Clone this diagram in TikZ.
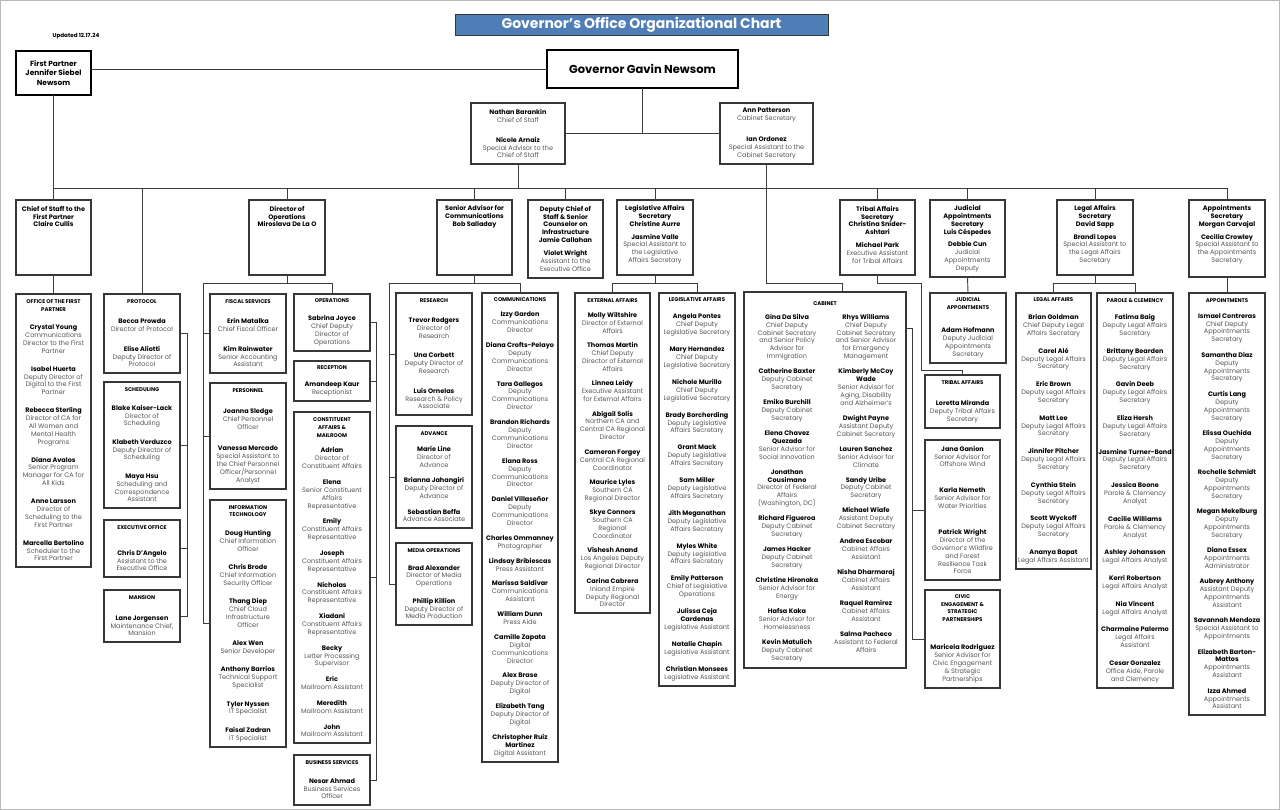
\documentclass[tikz,border=0pt]{standalone}
\usepackage{fontspec}
\setmainfont{Poppins}
\definecolor{boxc}{RGB}{55,55,55}
\definecolor{linec}{RGB}{60,60,60}
\definecolor{titc}{RGB}{85,85,85}
\definecolor{bar}{RGB}{79,125,182}
\newcommand\bodyfont{\fontsize{6.5}{7.9}\selectfont\color{titc}}
\newcommand\nm[1]{{\bfseries\color{black}#1}}
\newcommand\hd[1]{{\fontsize{5.4}{7.4}\selectfont\bfseries\color{black}#1}}
\newcommand\sep{\par\vfill}
\newcommand\gap{\par\vspace{5pt}}
\newcommand\bx[7][]{%
  \node[box,#1,minimum width={#5-#3},minimum height={#6-#4}] (#2) at (#3,#4)
  {\begin{minipage}[c][\dimexpr#6pt-#4pt-12pt\relax][s]{\dimexpr#5pt-#3pt-1pt\relax}\centering\bodyfont#7\end{minipage}};}
\newcommand\col[5]{% name, cx, ytop, height, content
  \node[inner sep=0pt,outer sep=0pt,anchor=north] (#1) at (#2,#3)
  {\begin{minipage}[c][#4pt][s]{77pt}\centering\bodyfont#5\end{minipage}};}
\tikzset{
  box/.style={draw=boxc,line width=1.1pt,inner sep=0pt,outer sep=0pt,anchor=north west,fill=white},
  topbox/.style={draw=black,line width=2.4pt},
  con/.style={draw=linec,line width=0.9pt},
  titlebar/.style={fill=bar,draw=boxc,line width=0.8pt,text=white,inner sep=0pt,minimum width=373,minimum height=21,font=\fontsize{14}{16}\selectfont\bfseries},
}
\begin{document}
\begin{tikzpicture}[x=1pt,y=-1pt]
\useasboundingbox (0,0) rectangle (1280,810);
\draw[gray!55,line width=1pt] (0.5,0.5) rectangle (1279.5,809.5);
\node[titlebar] (title) at (641.5,24.5) {Governor’s Office Organizational Chart};
\node[inner sep=0pt] (upd) at (76,36) {\fontsize{5.6}{6.5}\selectfont\bfseries Updated 12.17.24};
\node[box,topbox,minimum width=75,minimum height=44] (fp) at (16,51)
  {\begin{minipage}{72pt}\centering\fontsize{7.4}{9.8}\selectfont\bfseries First Partner\\Jennifer Siebel\\Newsom\end{minipage}};
\node[box,topbox,minimum width=191,minimum height=38] (gov) at (547,50)
  {\fontsize{11.5}{13}\selectfont\bfseries Governor Gavin Newsom};
% level 1
\bx{nathan}{471}{103}{565}{164}{\nm{Nathan Barankin}\\Chief of Staff\sep\nm{Nicole Arnaiz}\\Special Advisor to the\\Chief of Staff}
\bx{ann}{720}{103}{813}{164}{\nm{Ann Patterson}\\Cabinet Secretary\sep\nm{Ian Ordonez}\\Special Assistant to the\\Cabinet Secretary}
% level 2
\bx{cosfp}{16}{200}{91}{275}{\nm{Chief of Staff to the\\First Partner\\Claire Cullis}\par\vfill}
\bx{dirops}{249}{200}{325}{275}{\nm{Director of\\Operations\\Miroslava De La O}\par\vfill}
\bx{senadv}{437}{200}{512}{275}{\nm{Senior Advisor for\\Communications\\Bob Salladay}\par\vfill}
\bx{depchief}{528}{200}{603}{278}{\nm{Deputy Chief of\\Staff \& Senior\\Counselor on\\Infrastructure\\Jamie Callahan}\gap\nm{Violet Wright}\\Assistant to the\\Executive Office\par\vfill}
\bx{legsec}{617}{200}{693}{275}{\nm{Legislative Affairs\\Secretary\\Christine Aurre}\gap\nm{Jasmine Valle}\\Special Assistant to\\the Legislative\\Affairs Secretary\par\vfill}
\bx{tribsec}{840}{200}{915}{275}{\nm{Tribal Affairs\\Secretary\\Christina Snider-\\Ashtari}\gap\nm{Michael Park}\\Executive Assistant\\for Tribal Affairs\par\vfill}
\bx{judsec}{930}{200}{1005}{277}{\nm{Judicial\\Appointments\\Secretary\\Luis Céspedes}\gap\nm{Debbie Cun}\\Judicial\\Appointments\\Deputy\par\vfill}
\bx{legalsec}{1057}{200}{1133}{275}{\nm{Legal Affairs\\Secretary\\David Sapp}\gap\nm{Brandi Lopes}\\Special Assistant to\\the Legal Affairs\\Secretary\par\vfill}
\bx{apptsec}{1189}{200}{1265}{277}{\nm{Appointments\\Secretary\\Morgan Carvajal}\gap\nm{Cecilia Crowley}\\Special Assistant to\\the Appointments\\Secretary\par\vfill}
% level 3
\bx{ofp}{16}{294}{91}{567}{\hd{OFFICE OF THE FIRST\\PARTNER}\sep\nm{Crystal Young}\\Communications\\Director to the First\\Partner\sep\nm{Isabel Huerta}\\Deputy Director of\\Digital to the First\\Partner\sep\nm{Rebecca Sterling}\\Director of CA for\\All Women and\\Mental Health\\Programs\sep\nm{Diana Avalos}\\Senior Program\\Manager for CA for\\All Kids\sep\nm{Anne Larsson}\\Director of\\Scheduling to the\\First Partner\sep\nm{Marcella Bertolino}\\Scheduler to the\\First Partner}
\bx{prot}{104}{294}{180}{373}{\hd{PROTOCOL}\sep\nm{Becca Prowda}\\Director of Protocol\sep\nm{Elise Aliotti}\\Deputy Director of\\Protocol}
\bx{sched}{104}{382}{180}{508}{\hd{SCHEDULING}\sep\nm{Blake Kaiser-Lack}\\Director of\\Scheduling\sep\nm{Klabeth Verduzco}\\Deputy Director of\\Scheduling\sep\nm{Maya Hsu}\\Scheduling and\\Correspondence\\Assistant}
\bx{exec}{104}{520}{180}{577}{\hd{EXECUTIVE OFFICE}\sep\nm{Chris D’Angelo}\\Assistant to the\\Executive Office}
\bx{mans}{104}{590}{180}{642}{\hd{MANSION}\sep\nm{Lane Jorgensen}\\Maintenance Chief,\\Mansion}
\bx{fisc}{210}{294}{286}{373}{\hd{FISCAL SERVICES}\sep\nm{Erin Matalka}\\Chief Fiscal Officer\sep\nm{Kim Rainwater}\\Senior Accounting\\Assistant}
\bx{pers}{210}{383}{286}{489}{\hd{PERSONNEL}\sep\nm{Joanna Sledge}\\Chief Personnel\\Officer\sep\nm{Vanessa Mercado}\\Special Assistant to\\the Chief Personnel\\Officer/Personnel\\Analyst}
\bx{it}{210}{500}{286}{747}{\hd{INFORMATION\\TECHNOLOGY}\sep\nm{Doug Hunting}\\Chief Information\\Officer\sep\nm{Chris Brode}\\Chief Information\\Security Officer\sep\nm{Thang Diep}\\Chief Cloud\\Infrastructure\\Officer\sep\nm{Alex Wen}\\Senior Developer\sep\nm{Anthony Barrios}\\Technical Support\\Specialist\sep\nm{Tyler Nyssen}\\IT Specialist\sep\nm{Faisal Zadran}\\IT Specialist}
\bx{ops}{294}{294}{370}{351}{\hd{OPERATIONS}\sep\nm{Sabrina Joyce}\\Chief Deputy\\Director of\\Operations}
\bx{recep}{294}{361}{370}{401}{\hd{RECEPTION}\sep\nm{Amandeep Kaur}\\Receptionist}
\bx{const}{294}{412}{370}{743}{\hd{CONSTITUENT\\AFFAIRS \&\\MAILROOM}\sep\nm{Adrian}\\Director of\\Constituent Affairs\sep\nm{Elena}\\Senior Constituent\\Affairs\\Representative\sep\nm{Emily}\\Constituent Affairs\\Representative\sep\nm{Joseph}\\Constituent Affairs\\Representative\sep\nm{Nicholas}\\Constituent Affairs\\Representative\sep\nm{Xiadani}\\Constituent Affairs\\Representative\sep\nm{Becky}\\Letter Processing\\Supervisor\sep\nm{Eric}\\Mailroom Assistant\sep\nm{Meredith}\\Mailroom Assistant\sep\nm{John}\\Mailroom Assistant}
\bx{biz}{294}{755}{370}{805}{\hd{BUSINESS SERVICES}\sep\nm{Nesar Ahmad}\\Business Services\\Officer}
\bx{res}{396}{293}{472}{415}{\hd{RESEARCH}\sep\nm{Trevor Rodgers}\\Director of\\Research\sep\nm{Una Corbett}\\Deputy Director of\\Research\sep\nm{Luis Ornelas}\\Research \& Policy\\Associate}
\bx{adv}{396}{426}{472}{528}{\hd{ADVANCE}\sep\nm{Marie Line}\\Director of\\Advance\sep\nm{Brianna Jahangiri}\\Deputy Director of\\Advance\sep\nm{Sebastian Beffa}\\Advance Associate}
\bx{media}{396}{543}{472}{625}{\hd{MEDIA OPERATIONS}\sep\nm{Brad Alexander}\\Director of Media\\Operations\sep\nm{Phillip Killion}\\Deputy Director of\\Media Production}
\bx{comm}{482}{293}{558}{762}{\hd{COMMUNICATIONS}\sep\nm{Izzy Gardon}\\Communications\\Director\sep\nm{Diana Crofts-Pelayo}\\Deputy\\Communications\\Director\sep\nm{Tara Gallegos}\\Deputy\\Communications\\Director\sep\nm{Brandon Richards}\\Deputy\\Communications\\Director\sep\nm{Elana Ross}\\Deputy\\Communications\\Director\sep\nm{Daniel Villaseñor}\\Deputy\\Communications\\Director\sep\nm{Charles Ommanney}\\Photographer\sep\nm{Lindsay Bribiescas}\\Press Assistant\sep\nm{Marissa Saldivar}\\Communications\\Assistant\sep\nm{William Dunn}\\Press Aide\sep\nm{Camille Zapata}\\Digital\\Communications\\Director\sep\nm{Alex Brase}\\Deputy Director of\\Digital\sep\nm{Elizabeth Tang}\\Deputy Director of\\Digital\sep\nm{Christopher Ruiz\\Martinez}\\Digital Assistant}
\bx{ext}{575}{293}{650}{613}{\hd{EXTERNAL AFFAIRS}\sep\nm{Molly Wiltshire}\\Director of External\\Affairs\sep\nm{Thomas Martin}\\Chief Deputy\\Director of External\\Affairs\sep\nm{Linnea Leidy}\\Executive Assistant\\for External Affairs\sep\nm{Abigail Solis}\\Northern CA and\\Central CA Regional\\Director\sep\nm{Cameron Forgey}\\Central CA Regional\\Coordinator\sep\nm{Maurice Lyles}\\Southern CA\\Regional Director\sep\nm{Skye Connors}\\Southern CA\\Regional\\Coordinator\sep\nm{Vishesh Anand}\\Los Angeles Deputy\\Regional Director\sep\nm{Carina Cabrera}\\Inland Empire\\Deputy Regional\\Director}
\bx{leg}{659}{293}{735}{686}{\hd{LEGISLATIVE AFFAIRS}\sep\nm{Angela Pontes}\\Chief Deputy\\Legislative Secretary\sep\nm{Mary Hernandez}\\Chief Deputy\\Legislative Secretary\sep\nm{Nichole Murillo}\\Chief Deputy\\Legislative Secretary\sep\nm{Brady Borcherding}\\Deputy Legislative\\Affairs Secretary\sep\nm{Grant Mack}\\Deputy Legislative\\Affairs Secretary\sep\nm{Sam Miller}\\Deputy Legislative\\Affairs Secretary\sep\nm{Jith Meganathan}\\Deputy Legislative\\Affairs Secretary\sep\nm{Myles White}\\Deputy Legislative\\Affairs Secretary\sep\nm{Emily Patterson}\\Chief of Legislative\\Operations\sep\nm{Julissa Ceja\\Cardenas}\\Legislative Assistant\sep\nm{Natalie Chapin}\\Legislative Assistant\sep\nm{Christian Monsees}\\Legislative Assistant}
% cabinet
\node[box,minimum width=162,minimum height=376] (cab) at (744,292) {};
\node[inner sep=0pt] (cabh) at (825,304) {\hd{CABINET}};
\col{cabl}{787}{314}{346}{\nm{Gina Da Silva}\\Chief Deputy\\Cabinet Secretary\\and Senior Policy\\Advisor for\\Immigration\sep\nm{Catherine Baxter}\\Deputy Cabinet\\Secretary\sep\nm{Emiko Burchill}\\Deputy Cabinet\\Secretary\sep\nm{Elena Chavez\\Quezada}\\Senior Advisor for\\Social Innovation\sep\nm{Jonathan\\Cousimano}\\Director of Federal\\Affairs\\(Washington, DC)\sep\nm{Richard Figueroa}\\Deputy Cabinet\\Secretary\sep\nm{James Hacker}\\Deputy Cabinet\\Secretary\sep\nm{Christine Hironaka}\\Senior Advisor for\\Energy\sep\nm{Hafsa Kaka}\\Senior Advisor for\\Homelessness\sep\nm{Kevin Matulich}\\Deputy Cabinet\\Secretary}
\col{cabr}{866}{314}{338}{\nm{Rhys Williams}\\Chief Deputy\\Cabinet Secretary\\and Senior Advisor\\for Emergency\\Management\sep\nm{Kimberly McCoy\\Wade}\\Senior Advisor for\\Aging, Disability\\and Alzheimer’s\sep\nm{Dwight Payne}\\Assistant Deputy\\Cabinet Secretary\sep\nm{Lauren Sanchez}\\Senior Advisor for\\Climate\sep\nm{Sandy Uribe}\\Deputy Cabinet\\Secretary\sep\nm{Michael Wiafe}\\Assistant Deputy\\Cabinet Secretary\sep\nm{Andrea Escobar}\\Cabinet Affairs\\Assistant\sep\nm{Nisha Dharmaraj}\\Cabinet Affairs\\Assistant\sep\nm{Raquel Ramirez}\\Cabinet Affairs\\Assistant\sep\nm{Salma Pacheco}\\Assistant to Federal\\Affairs}
\bx{jud}{930}{293}{1006}{363}{\hd{JUDICIAL\\APPOINTMENTS}\sep\nm{Adam Hofmann}\\Deputy Judicial\\Appointments\\Secretary}
\bx{trib}{925}{375}{1000}{428}{\hd{TRIBAL AFFAIRS}\sep\nm{Loretta Miranda}\\Deputy Tribal Affairs\\Secretary}
\bx{advs}{925}{440}{1000}{580}{\nm{Jana Ganion}\\Senior Advisor for\\Offshore Wind\sep\nm{Karla Nemeth}\\Senior Advisor for\\Water Priorities\sep\nm{Patrick Wright}\\Director of the\\Governor’s Wildfire\\and Forest\\Resilience Task\\Force}
\bx{civic}{925}{590}{1000}{688}{\hd{CIVIC\\ENGAGEMENT \&\\STRATEGIC\\PARTNERSHIPS}\sep\nm{Maricela Rodriguez}\\Senior Advisor for\\Civic Engagement\\\& Strategic\\Partnerships}
\bx{legal}{1016}{293}{1091}{569}{\hd{LEGAL AFFAIRS}\sep\nm{Brian Goldman}\\Chief Deputy Legal\\Affairs Secretary\sep\nm{Carel Alé}\\Deputy Legal Affairs\\Secretary\sep\nm{Eric Brown}\\Deputy Legal Affairs\\Secretary\sep\nm{Matt Lee}\\Deputy Legal Affairs\\Secretary\sep\nm{Jinnifer Pitcher}\\Deputy Legal Affairs\\Secretary\sep\nm{Cynthia Stein}\\Deputy Legal Affairs\\Secretary\sep\nm{Scott Wyckoff}\\Deputy Legal Affairs\\Secretary\sep\nm{Ananya Bapat}\\Legal Affairs Assistant}
\bx{parole}{1097}{293}{1173}{688}{\hd{PAROLE \& CLEMENCY}\sep\nm{Fatima Baig}\\Deputy Legal Affairs\\Secretary\sep\nm{Brittany Bearden}\\Deputy Legal Affairs\\Secretary\sep\nm{Gavin Deeb}\\Deputy Legal Affairs\\Secretary\sep\nm{Eliza Hersh}\\Deputy Legal Affairs\\Secretary\sep\nm{Jasmine Turner-Bond}\\Deputy Legal Affairs\\Secretary\sep\nm{Jessica Boone}\\Parole \& Clemency\\Analyst\sep\nm{Cacilie Williams}\\Parole \& Clemency\\Analyst\sep\nm{Ashley Johansson}\\Legal Affairs Analyst\sep\nm{Kerri Robertson}\\Legal Affairs Analyst\sep\nm{Nia Vincent}\\Legal Affairs Analyst\sep\nm{Charmaine Palermo}\\Legal Affairs\\Assistant\sep\nm{Cesar Gonzalez}\\Office Aide, Parole\\and Clemency}
\bx{appts}{1189}{293}{1265}{715}{\hd{APPOINTMENTS}\sep\nm{Ismael Contreras}\\Chief Deputy\\Appointments\\Secretary\sep\nm{Samantha Diaz}\\Deputy\\Appointments\\Secretary\sep\nm{Curtis Lang}\\Deputy\\Appointments\\Secretary\sep\nm{Elissa Ouchida}\\Deputy\\Appointments\\Secretary\sep\nm{Rochelle Schmidt}\\Deputy\\Appointments\\Secretary\sep\nm{Megan Mekelburg}\\Deputy\\Appointments\\Secretary\sep\nm{Diana Essex}\\Appointments\\Administrator\sep\nm{Aubrey Anthony}\\Assistant Deputy\\Appointments\\Assistant\sep\nm{Savannah Mendoza}\\Special Assistant to\\Appointments\sep\nm{Elizabeth Barton-\\Mattos}\\Appointments\\Assistant\sep\nm{Izza Ahmed}\\Appointments\\Assistant}
% connectors
\coordinate (bus) at (0,188);
\coordinate (hy) at (0,283);
\coordinate (cabin) at ([xshift=98pt]cab.north west);
\draw[con] (fp.east |- gov.west) -- (gov.west);
\draw[con] (gov.south) -- (gov.south |- nathan.east);
\draw[con] (nathan.east) -- (ann.west);
\draw[con] (nathan.south) -- (nathan.south |- bus);
\draw[con] (cosfp.north |- bus) -- (apptsec.north |- bus);
\draw[con] (fp.south) -- (cosfp.north);
\draw[con] (cosfp.south) -- (ofp.north);
\draw[con] (prot.north |- bus) -- (prot.north);
\foreach \n in {dirops,senadv,depchief,legsec,tribsec,judsec,legalsec,apptsec}
  \draw[con] (\n.north |- bus) -- (\n.north);
\draw[con] (ann.south) -- (ann.south |- hy) -| (cabin);
% protocol rail
\coordinate (r0) at ([xshift=7pt]prot.east);
\draw[con] (prot.east) -- (r0) |- (mans.east);
\draw[con] (r0 |- sched.east) -- (sched.east);
\draw[con] (r0 |- exec.east) -- (exec.east);
% operations
\coordinate (r1) at (203,283);
\draw[con] (dirops.south) -- (dirops.south |- hy);
\draw[con] (r1) -- (ops.north |- hy) -- (ops.north);
\draw[con] (r1) |- (it.west);
\draw[con] (r1 |- fisc.west) -- (fisc.west);
\draw[con] (r1 |- pers.west) -- (pers.west);
\coordinate (r2) at ([xshift=6pt]ops.east);
\draw[con] (ops.east) -- (r2) |- (biz.east);
\draw[con] (r2 |- recep.east) -- (recep.east);
\draw[con] (r2 |- const.east) -- (const.east);
% communications
\coordinate (r3) at (389,283);
\draw[con] (senadv.south) -- (senadv.south |- hy);
\draw[con] (r3) -- (comm.north |- hy) -- (comm.north);
\draw[con] (r3) |- (media.west);
\draw[con] (r3 |- res.west) -- (res.west);
\draw[con] (r3 |- adv.west) -- (adv.west);
% legislative
\draw[con] (legsec.south) -- (legsec.south |- hy);
\draw[con] (ext.north) -- (ext.north |- hy) -- (leg.north |- hy) -- (leg.north);
% tribal
\coordinate (r5) at (921,283);
\draw[con] (tribsec.south) -- (tribsec.south |- hy) -- (r5) -- (r5 |- 0,370) -| (trib.north);
\draw[con] (judsec.south) -- (jud.north);
\coordinate (r4) at (912,328);
\draw[con] (r4 -| cab.east) -- (r4) |- (civic.west);
\draw[con] (r4 |- advs.west) -- (advs.west);
% legal
\draw[con] (legalsec.south) -- (legalsec.south |- hy);
\draw[con] (legal.north) -- (legal.north |- hy) -- (parole.north |- hy) -- (parole.north);
\draw[con] (apptsec.south) -- (appts.north);
\end{tikzpicture}
\end{document}
